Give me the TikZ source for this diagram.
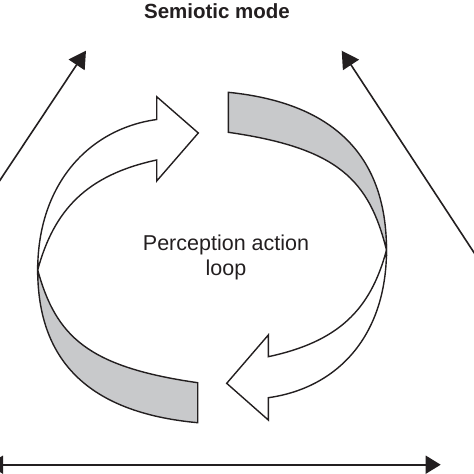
\documentclass[tikz,border=0pt]{standalone}
\usepackage{fontspec}
\setmainfont{Liberation Sans}
\usetikzlibrary{arrows.meta}
\definecolor{linec}{RGB}{35,31,32}
\definecolor{bandgray}{RGB}{200,201,203}
\tikzset{
  ribbon/.style={draw=linec, line width=1.4pt, line join=miter},
  whitearrow/.style={ribbon, fill=white},
  grayband/.style={ribbon, fill=bandgray},
  pointer/.style={draw=linec, line width=1.6pt, -{Triangle[length=17pt,width=19pt]}},
  twoway/.style={draw=linec, line width=1.6pt, {Triangle[length=15pt,width=18pt]}-{Triangle[length=15pt,width=18pt]}},
  labeltext/.style={text=linec, inner sep=0pt},
}
\begin{document}
\begin{tikzpicture}[x=1pt,y=-1pt]
\useasboundingbox (0,0) rectangle (474,474);
\clip (0,0) rectangle (474,474);
% upper-right grey band
\draw[grayband] (228.3,92.3) .. controls (338.3,103.3) and (386.5,160) .. (386.5,250)
  .. controls (369,180) and (338.3,148.1) .. (228.3,132.3) -- cycle;
% lower-left grey band
\draw[grayband] (37.7,270) .. controls (37.7,360) and (87.7,412.6) .. (197.7,422.7)
  -- (197.7,382.7) .. controls (87.7,366.9) and (56,336.5) .. (37.7,270) -- cycle;
% upper-left white arrow
\draw[whitearrow] (37.7,270) .. controls (37.7,185) and (88,129) .. (156.7,119.5)
  -- (156.7,96.7) -- (198.3,133) -- (156.7,181) -- (156.7,160)
  .. controls (86.7,175) and (53.9,210) .. (37.7,270) -- cycle;
% lower-right white arrow
\draw[whitearrow] (386.5,250) .. controls (386.5,335) and (338.3,387.9) .. (268.3,397.7)
  -- (268.3,420) -- (226.7,383.3) -- (268.3,335) -- (268.3,356.7)
  .. controls (338.3,341.7) and (370.5,310) .. (386.5,250) -- cycle;
% texts
\node[labeltext, font=\bfseries\fontsize{20.5}{24}\selectfont, anchor=base] (title) at (217,18.3) {Semiotic mode};
\node[labeltext, font=\fontsize{21.5}{25}\selectfont, align=center, anchor=base] (loopLabel) at (226,275) {Perception action\\loop};
% free arrows
\coordinate (lfoot) at (-53,260);
\coordinate (ltip) at (86,50.7);
\coordinate (rfoot) at (490,277);
\coordinate (rtip) at (341.7,50.7);
\coordinate (bleft) at (-12,464.7);
\coordinate (bright) at (440.7,464.7);
\draw[pointer] (lfoot) -- (ltip);
\draw[pointer] (rfoot) -- (rtip);
\draw[twoway] (bleft) -- (bright);
\end{tikzpicture}
\end{document}
